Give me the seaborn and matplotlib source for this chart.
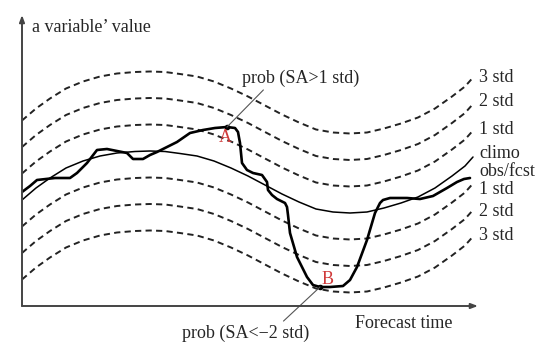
import numpy as np
import pandas as pd
import matplotlib
matplotlib.use("Agg")
import matplotlib.pyplot as plt
import seaborn as sns

# ---- data (arbitrary units: time along x, value along y) -----------------
climo_time = [0, 14, 28, 44, 61, 78, 95, 113, 128, 143, 158, 175, 192, 209, 226,
              243, 260, 277, 294, 311, 328, 345, 362, 379, 396, 413, 430, 443, 451]
climo_value = [106, 118, 128, 138, 145, 150, 153, 154.5, 155, 154.5, 152.5, 150, 145,
               138, 130, 121, 112, 104, 97, 94, 93, 94, 98, 103, 109, 118, 130, 140, 149]
spread = 26.5  # one standard deviation
std_levels = [3, 2, 1, -1, -2, -3]

obs_time = [0, 8, 15, 33, 48, 55, 60, 65, 75, 85, 95, 105, 111, 121, 128, 135, 145,
            155, 168, 181, 193, 205, 213, 216, 218, 220, 225, 231, 240, 245, 246, 250,
            255, 263, 265, 266, 268, 275, 285, 291, 298, 308, 321, 328, 335, 345, 353,
            358, 361, 368, 385, 398, 411, 425, 435, 442, 448]
obs_value = [114, 120, 126, 128, 128, 133, 138, 143, 156, 157, 155, 153, 147, 147, 151,
             154, 159, 164, 173, 176, 178, 179, 178, 174, 163, 143, 136, 133, 131, 124,
             116, 111, 107, 103, 99, 91, 73, 49, 29, 21, 19, 19, 20, 26, 39, 66, 93, 103,
             106, 108, 108, 107, 110, 118, 124, 127, 128]

right_labels = ["3 std", "2 std", "1 std", "climo", "obs/fcst", "1 std", "2 std", "3 std"]
right_label_y = [228, 204, 176, 153, 134, 116, 95, 70]

climo = pd.DataFrame({"time": climo_time, "value": climo_value})
obs = pd.DataFrame({"time": obs_time, "value": obs_value})

sns.set_style("white")
plt.rcParams["font.family"] = ["Liberation Serif", "DejaVu Serif"]
FS = 13

fig = plt.figure(figsize=(5.5, 3.6), dpi=100)
ax = fig.add_axes([22 / 550, 54 / 360, 456 / 550, 291 / 360])
ax.set_xlim(0, 456)
ax.set_ylim(0, 291)

# std bands (dashed)
for k in std_levels:
    band = climo.assign(value=climo["value"] + k * spread)
    sns.lineplot(data=band, x="time", y="value", ax=ax, color="#222222",
                 lw=1.4, linestyle=(0, (3.2, 2.2)), estimator=None, sort=False)

sns.lineplot(data=climo, x="time", y="value", ax=ax, color="black", lw=1.1,
             estimator=None, sort=False)
sns.lineplot(data=obs, x="time", y="value", ax=ax, color="black", lw=1.9,
             estimator=None, sort=False)

# points A and B
ia = int(np.argmax(obs_value))
ib = int(np.argmin(obs_value))
ax.plot(obs_time[ia], obs_value[ia], "o", color="black", ms=3, clip_on=False)
ax.plot(obs_time[ib], obs_value[ib], "o", color="black", ms=3, clip_on=False)
ax.text(obs_time[ia] - 2, obs_value[ia] - 11, "A", color="#d03a3a", fontsize=FS,
        ha="center", va="center")
ax.text(obs_time[ib] + 8, obs_value[ib] + 7, "B", color="#d03a3a", fontsize=FS,
        ha="center", va="center")

ax.annotate("prob (SA>1 std)", xy=(obs_time[ia], obs_value[ia]), xytext=(220, 228),
            fontsize=FS, va="center", ha="left",
            arrowprops=dict(arrowstyle="-", color="#555555", lw=0.8,
                            shrinkA=0, shrinkB=0, relpos=(0.21, 0)))
ax.annotate("prob (SA<\u22122 std)", xy=(obs_time[ib], obs_value[ib]), xytext=(160, -27),
            fontsize=FS, va="center", ha="left", annotation_clip=False,
            arrowprops=dict(arrowstyle="-", color="#555555", lw=0.8,
                            shrinkA=0, shrinkB=0, relpos=(0.77, 1)))

for lab, yy in zip(right_labels, right_label_y):
    ax.text(457, yy, lab, fontsize=FS, ha="left", va="center")

ax.text(10, 278, "a variable\u2019 value", fontsize=FS, ha="left", va="center")
ax.text(333, -17, "Forecast time", fontsize=FS, ha="left", va="center")

# axes drawn as arrows
for s in ax.spines.values():
    s.set_visible(False)
ax.set_xticks([])
ax.set_yticks([])
ax.set_xlabel("")
ax.set_ylabel("")
arrow = dict(arrowstyle="-|>,head_length=0.4,head_width=0.15", color="#444444",
             lw=1.4, shrinkA=0, shrinkB=0)
ax.annotate("", xy=(1, 0), xytext=(0, 0), xycoords="axes fraction",
            textcoords="axes fraction", arrowprops=arrow)
ax.annotate("", xy=(0, 1), xytext=(0, 0), xycoords="axes fraction",
            textcoords="axes fraction", arrowprops=arrow)

fig.savefig("out.png", dpi=100)
